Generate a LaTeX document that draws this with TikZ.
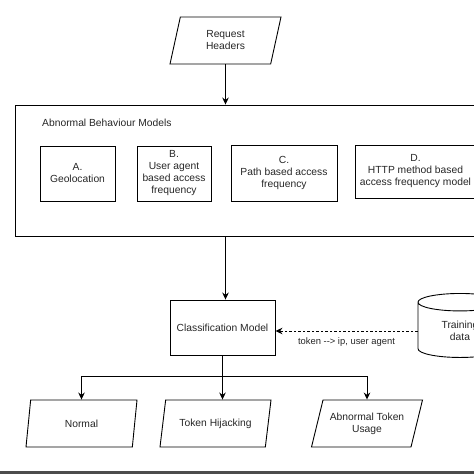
\documentclass[tikz,border=0pt]{standalone}
\usepackage{fontspec}
\setmainfont{Liberation Sans}
\usetikzlibrary{shapes.geometric,arrows.meta}

\begin{document}
\begin{tikzpicture}[x=1pt,y=-1pt]
\tikzstyle{every node}=[font=\fontsize{10.3}{12}\selectfont, text=black!85, align=center]
\tikzstyle{model-box}=[draw, rectangle, line width=0.9pt, inner sep=1pt]
\tikzstyle{io-node}=
[
	draw, trapezium, line width=0.9pt,
	trapezium left angle=64, trapezium right angle=116,
	trapezium stretches body,
	minimum width=111pt, minimum height=47pt, inner sep=1pt
]
\tikzstyle{flow-arrow}=[line width=0.9pt, -{Stealth[length=7pt,width=6.5pt]}]
\tikzstyle{flow-line}=[line width=0.9pt]

\useasboundingbox (0,0) rectangle (474,474);
\clip (0,0) rectangle (474,474);

\node[io-node] (req) at (225.5,40.5) {Request\\Headers};

\node[model-box, minimum width=475pt, minimum height=131pt] (abm) at (252.5,170.5) {};
\node[anchor=west, inner sep=0pt] (abm-title) at (42,123) {Abnormal Behaviour Models};
\node[model-box, minimum width=75pt, minimum height=55pt] (geo) at (77.5,173.5) {A.\\Geolocation};
\node[model-box, minimum width=74pt, minimum height=55pt] (agent) at (174,173.5) {B.\\User agent\\based access\\frequency};
\node[model-box, minimum width=106pt, minimum height=56pt] (path) at (284,173) {C.\\Path based access\\frequency};
\node[model-box, minimum width=121pt, minimum height=53pt] (method) at (415.5,171.5) {D.\\HTTP method based\\access frequency model};

\node[model-box, minimum width=105pt, minimum height=55pt] (cls) at (222.5,327.5) {Classification Model};
\node[draw, cylinder, shape border rotate=90, aspect=0.45, line width=0.9pt,
	minimum width=84pt, minimum height=64pt, inner sep=1pt] (train) at (460,331) {Training\\data};

\node[io-node] (normal) at (81.5,423.5) {Normal};
\node[io-node] (hijack) at (215.5,423.5) {Token Hijacking};
\node[io-node] (abnormal) at (367,423.5) {Abnormal Token\\Usage};

\coordinate (split) at (222.5,376);

\draw[flow-arrow] (req.south) -- (req.south |- abm.north);
\draw[flow-arrow] (req.south |- abm.south) -- (req.south |- cls.north);
\draw[flow-arrow, dash pattern=on 2.5pt off 2pt] (train.west) -- (cls.east |- train.west)
	node[midway, below=3pt, font=\fontsize{9.4}{11}\selectfont] (token-label) {token -{}-> ip, user agent};
\draw[flow-line] (cls.south) -- (split);
\draw[flow-arrow] (split) -| (normal.north);
\draw[flow-arrow] (split) -- (split |- hijack.north);
\draw[flow-arrow] (split) -| (abnormal.north);

\fill[black!70] (0,471) rectangle (474,474);
\end{tikzpicture}
\end{document}
